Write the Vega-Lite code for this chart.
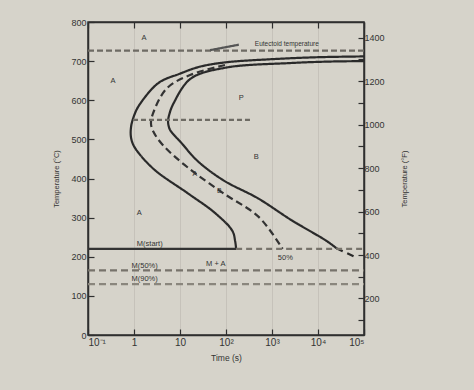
{
  "$schema": "https://vega.github.io/schema/vega-lite/v6.json",
  "width": 276,
  "height": 313,
  "autosize": {"type": "none"},
  "padding": {"left": 88, "top": 22, "right": 110, "bottom": 55},
  "background": "#d6d3ca",
  "config": {
    "view": {"stroke": "#2f2f2f", "strokeWidth": 1.5},
    "font": "Liberation Sans",
    "axis": {
      "domainColor": "#2f2f2f", "domainWidth": 1.5,
      "tickColor": "#2f2f2f", "tickWidth": 1.2,
      "labelColor": "#333333", "titleColor": "#333333",
      "titleFontWeight": "normal", "labelFont": "Liberation Sans", "titleFont": "Liberation Sans"
    }
  },
  "datasets": {
    "curves": [
      {"series": "start", "o": 1, "t": 100000, "T": 712},
      {"series": "start", "o": 2, "t": 10000, "T": 710},
      {"series": "start", "o": 3, "t": 1000, "T": 705},
      {"series": "start", "o": 4, "t": 100, "T": 697},
      {"series": "start", "o": 5, "t": 27.5, "T": 686},
      {"series": "start", "o": 6, "t": 10, "T": 668},
      {"series": "start", "o": 7, "t": 3.39, "T": 644},
      {"series": "start", "o": 8, "t": 1.26, "T": 585},
      {"series": "start", "o": 9, "t": 1.0, "T": 560},
      {"series": "start", "o": 10, "t": 0.871, "T": 535},
      {"series": "start", "o": 11, "t": 0.851, "T": 510},
      {"series": "start", "o": 12, "t": 0.933, "T": 490},
      {"series": "start", "o": 13, "t": 1.175, "T": 470},
      {"series": "start", "o": 14, "t": 2.75, "T": 423},
      {"series": "start", "o": 15, "t": 16.2, "T": 359},
      {"series": "start", "o": 16, "t": 57.5, "T": 312},
      {"series": "start", "o": 17, "t": 138, "T": 266},
      {"series": "start", "o": 18, "t": 158, "T": 240},
      {"series": "start", "o": 19, "t": 166, "T": 220},
      {"series": "end", "o": 1, "t": 100000, "T": 700},
      {"series": "end", "o": 2, "t": 20000, "T": 699},
      {"series": "end", "o": 3, "t": 2400, "T": 695},
      {"series": "end", "o": 4, "t": 95, "T": 683},
      {"series": "end", "o": 5, "t": 17, "T": 655},
      {"series": "end", "o": 6, "t": 7.24, "T": 592},
      {"series": "end", "o": 7, "t": 5.89, "T": 565},
      {"series": "end", "o": 8, "t": 5.5, "T": 545},
      {"series": "end", "o": 9, "t": 6.03, "T": 525},
      {"series": "end", "o": 10, "t": 7.59, "T": 510},
      {"series": "end", "o": 11, "t": 10, "T": 495},
      {"series": "end", "o": 12, "t": 24.5, "T": 444},
      {"series": "end", "o": 13, "t": 89, "T": 395},
      {"series": "end", "o": 14, "t": 501, "T": 349},
      {"series": "end", "o": 15, "t": 2690, "T": 293},
      {"series": "end", "o": 16, "t": 15100, "T": 241},
      {"series": "end", "o": 17, "t": 25100, "T": 222},
      {"series": "endDash", "o": 1, "t": 25100, "T": 222},
      {"series": "endDash", "o": 2, "t": 67600, "T": 198},
      {"series": "fifty", "o": 1, "t": 95, "T": 690},
      {"series": "fifty", "o": 2, "t": 17, "T": 665},
      {"series": "fifty", "o": 3, "t": 5.13, "T": 630},
      {"series": "fifty", "o": 4, "t": 2.57, "T": 565},
      {"series": "fifty", "o": 5, "t": 2.34, "T": 540},
      {"series": "fifty", "o": 6, "t": 2.63, "T": 520},
      {"series": "fifty", "o": 7, "t": 4.27, "T": 485},
      {"series": "fifty", "o": 8, "t": 14.8, "T": 428},
      {"series": "fifty", "o": 9, "t": 91, "T": 361},
      {"series": "fifty", "o": 10, "t": 513, "T": 302},
      {"series": "fifty", "o": 11, "t": 1700, "T": 220},
      {"series": "eutectoid", "o": 1, "t": 0.1, "T": 727},
      {"series": "eutectoid", "o": 2, "t": 100000, "T": 727},
      {"series": "p550", "o": 1, "t": 0.95, "T": 550},
      {"series": "p550", "o": 2, "t": 372, "T": 550},
      {"series": "Ms", "o": 1, "t": 0.1, "T": 220},
      {"series": "Ms", "o": 2, "t": 166, "T": 220},
      {"series": "MsDash", "o": 1, "t": 166, "T": 220},
      {"series": "MsDash", "o": 2, "t": 100000, "T": 220},
      {"series": "M50", "o": 1, "t": 0.1, "T": 165},
      {"series": "M50", "o": 2, "t": 100000, "T": 165},
      {"series": "M90", "o": 1, "t": 0.1, "T": 130},
      {"series": "M90", "o": 2, "t": 100000, "T": 130},
      {"series": "arrow", "o": 1, "t": 190, "T": 742},
      {"series": "arrow", "o": 2, "t": 45, "T": 728}
    ],
    "labels": [
      {"kind": "region", "t": 1.66, "T": 760, "text": "A"},
      {"kind": "region", "t": 0.35, "T": 650, "text": "A"},
      {"kind": "region", "t": 214, "T": 605, "text": "P"},
      {"kind": "region", "t": 457, "T": 456, "text": "B"},
      {"kind": "region", "t": 1.3, "T": 312, "text": "A"},
      {"kind": "region", "t": 2.2, "T": 232, "text": "M(start)"},
      {"kind": "region", "t": 1.7, "T": 177, "text": "M(50%)"},
      {"kind": "region", "t": 1.7, "T": 143, "text": "M(90%)"},
      {"kind": "region", "t": 60, "T": 182, "text": "M + A"},
      {"kind": "region", "t": 1950, "T": 196, "text": "50%"},
      {"kind": "curve", "t": 21, "T": 412, "text": "A"},
      {"kind": "curve", "t": 72, "T": 368, "text": "B"},
      {"kind": "note", "t": 2100, "T": 745, "text": "Eutectoid temperature"}
    ],
    "fahr": [
      {"t": 0.1, "F": 32},
      {"t": 100000, "F": 1472}
    ]
  },
  "layer": [
    {
      "layer": [
        {
          "data": {"name": "curves"},
          "mark": {"type": "line", "interpolate": "catmull-rom"},
          "encoding": {
            "x": {
              "field": "t", "type": "quantitative",
              "scale": {"type": "log", "domain": [0.1, 100000], "nice": false},
              "axis": {
                "orient": "bottom", "title": "Time (s)",
                "values": [0.1, 1, 10, 100, 1000, 10000, 100000],
                "labelExpr": "datum.value < 0.5 ? '10⁻¹' : datum.value < 5 ? '1' : datum.value < 50 ? '10' : datum.value < 500 ? '10²' : datum.value < 5000 ? '10³' : datum.value < 50000 ? '10⁴' : '10⁵'",
                "tickSize": -6, "labelPadding": 8, "labelFontSize": 10,
                "titleFontSize": 8.5, "titlePadding": 6,
                "grid": true, "gridColor": "#aaa69c", "gridOpacity": 0.45, "gridWidth": 0.8
              }
            },
            "y": {
              "field": "T", "type": "quantitative",
              "scale": {"domain": [0, 800], "nice": false},
              "axis": {
                "orient": "left", "title": "Temperature (°C)",
                "values": [0, 100, 200, 300, 400, 500, 600, 700, 800],
                "labelOverlap": false,
                "tickSize": -6, "labelPadding": 8, "labelFontSize": 9,
                "titleFontSize": 7.5, "titlePadding": 10, "grid": false
              }
            },
            "detail": {"field": "series"},
            "order": {"field": "o", "type": "quantitative"},
            "color": {
              "field": "series", "type": "nominal", "legend": null,
              "scale": {
                "domain": ["start", "end", "endDash", "fifty", "eutectoid", "p550", "Ms", "MsDash", "M50", "M90", "arrow"],
                "range": ["#2a2a2a", "#2a2a2a", "#2a2a2a", "#333333", "#6e6b64", "#6e6b64", "#333333", "#77736b", "#77736b", "#8a867d", "#555555"]
              }
            },
            "strokeDash": {
              "field": "series", "type": "nominal", "legend": null,
              "scale": {
                "domain": ["start", "end", "endDash", "fifty", "eutectoid", "p550", "Ms", "MsDash", "M50", "M90", "arrow"],
                "range": [[1, 0], [1, 0], [7, 5], [7, 4], [6, 3], [5, 3], [1, 0], [6, 4], [7, 4], [7, 4], [1, 0]]
              }
            },
            "strokeWidth": {
              "field": "series", "type": "nominal", "legend": null,
              "scale": {
                "domain": ["start", "end", "endDash", "fifty", "eutectoid", "p550", "Ms", "MsDash", "M50", "M90", "arrow"],
                "range": [2.2, 2.2, 2.2, 2, 1, 1, 1.6, 1, 1, 1, 0.8]
              }
            }
          }
        },
        {
          "data": {"name": "labels"},
          "mark": {"type": "text", "color": "#333333", "font": "Liberation Sans"},
          "encoding": {
            "x": {
              "field": "t", "type": "quantitative",
              "scale": {"type": "log", "domain": [0.1, 100000], "nice": false},
              "axis": {
                "orient": "bottom", "title": "Time (s)",
                "values": [0.1, 1, 10, 100, 1000, 10000, 100000],
                "labelExpr": "datum.value < 0.5 ? '10⁻¹' : datum.value < 5 ? '1' : datum.value < 50 ? '10' : datum.value < 500 ? '10²' : datum.value < 5000 ? '10³' : datum.value < 50000 ? '10⁴' : '10⁵'",
                "tickSize": -6, "labelPadding": 8, "labelFontSize": 10,
                "titleFontSize": 8.5, "titlePadding": 6,
                "grid": true, "gridColor": "#aaa69c", "gridOpacity": 0.45, "gridWidth": 0.8
              }
            },
            "y": {
              "field": "T", "type": "quantitative",
              "scale": {"domain": [0, 800], "nice": false},
              "axis": {
                "orient": "left", "title": "Temperature (°C)",
                "values": [0, 100, 200, 300, 400, 500, 600, 700, 800],
                "labelOverlap": false,
                "tickSize": -6, "labelPadding": 8, "labelFontSize": 9,
                "titleFontSize": 7.5, "titlePadding": 10, "grid": false
              }
            },
            "text": {"field": "text"},
            "size": {
              "field": "kind", "type": "nominal", "legend": null,
              "scale": {"domain": ["region", "curve", "note"], "range": [7.5, 6.5, 7]}
            }
          }
        }
      ]
    },
    {
      "data": {"name": "fahr"},
      "mark": {"type": "point", "opacity": 0},
      "encoding": {
        "x": {
          "field": "t", "type": "quantitative",
          "scale": {"type": "log", "domain": [0.1, 100000], "nice": false},
          "axis": {"orient": "top", "title": null, "labels": false, "values": [0.1, 1, 10, 100, 1000, 10000, 100000], "tickSize": -6, "grid": false}
        },
        "y": {
          "field": "F", "type": "quantitative",
          "scale": {"domain": [32, 1472], "nice": false},
          "axis": {
            "orient": "right", "title": "Temperature (°F)", "titleAngle": -90,
            "values": [100, 200, 300, 400, 500, 600, 700, 800, 900, 1000, 1100, 1200, 1300, 1400],
            "labelExpr": "datum.value % 200 === 0 ? datum.label : ''",
            "format": "d",
            "tickSize": -6, "labelPadding": 6, "labelFontSize": 9,
            "titleFontSize": 7.5, "titlePadding": 24, "grid": false
          }
        }
      }
    }
  ],
  "resolve": {"scale": {"y": "independent"}, "axis": {"x": "independent", "y": "independent"}}
}
